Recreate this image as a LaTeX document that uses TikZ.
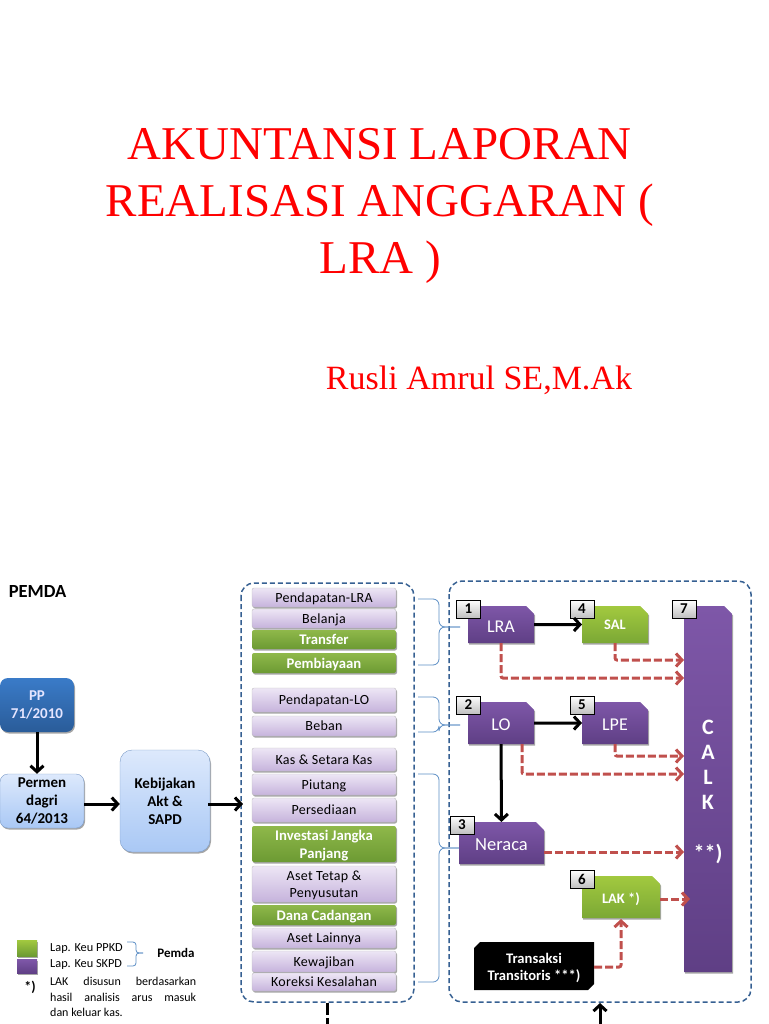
\documentclass[tikz,border=0pt]{standalone}
\usepackage{fontspec}
\setmainfont{Carlito}
\newfontfamily\titlefont{Liberation Serif}
\usetikzlibrary{positioning,calc,shapes.misc,shadows,arrows.meta}
\definecolor{dashblue}{HTML}{366092}
\definecolor{braceblue}{HTML}{5B8DC4}
\definecolor{dashred}{HTML}{C0504D}
\definecolor{purple1}{HTML}{EDE6F5}
\definecolor{purple2}{HTML}{C6B3DC}
\definecolor{green1}{HTML}{8FB84A}
\definecolor{green2}{HTML}{6C9A33}
\definecolor{green3}{HTML}{A2C93F}
\definecolor{green4}{HTML}{7BA835}
\definecolor{violet1}{HTML}{7E57A8}
\definecolor{violet2}{HTML}{5F3F85}
\definecolor{blue1}{HTML}{7C9CC8}
\definecolor{blue2}{HTML}{DDE9FC}
\definecolor{blue3}{HTML}{A9C8F5}
\definecolor{blue4}{HTML}{3A7BC8}
\definecolor{blue5}{HTML}{2A5C99}
\newcommand{\fsz}[1]{\fontsize{#1}{#1}\selectfont}
\newcommand{\lowered}[1]{\raisebox{-2pt}[\height][\depth]{#1}}

\begin{document}
\begin{tikzpicture}
   [x=1pt,y=-1pt,
    softshadow/.style={drop shadow={shadow xshift=1pt,shadow yshift=-1.5pt,opacity=.35,fill=black}},
    acct/.style={rectangle,rounded corners=2pt,draw=black!25,minimum width=144pt,inner sep=0pt,outer sep=0pt,text depth=0pt,
      top color=purple1,bottom color=purple2,softshadow,align=center,font=\fsz{14}\addfontfeature{LetterSpace=2},text=black},
    acctgreen/.style={acct,draw=none,top color=green1,bottom color=green2,text=white,font=\fsz{14.7}\bfseries},
    report/.style={chamfered rectangle,chamfered rectangle corners=north east,chamfered rectangle sep=4pt,
      inner sep=0pt,outer sep=0pt,top color=violet1,bottom color=violet2,softshadow,text=white,align=center,font=\fsz{18}},
    reportgreen/.style={report,top color=green3,bottom color=green4,font=\fsz{14.5}\bfseries},
    numtag/.style={rectangle,draw=black,line width=1pt,top color=white,bottom color=black!25,minimum width=24pt,minimum height=18pt,
      inner sep=0pt,font=\fsz{15}\bfseries,text=black},
    lawbox/.style={rectangle,rounded corners=8pt,draw=blue1,top color=blue2,bottom color=blue3,softshadow,
      inner sep=0pt,align=center,font=\fsz{15}\bfseries,text=black},
    dashbox/.style={draw=dashblue,line width=1.5pt,dash pattern=on 5pt off 3pt,rounded corners=13pt},
    blackarrow/.style={-{Straight Barb[length=6pt,width=13pt]},line width=3pt,black},
    redarrow/.style={-{Straight Barb[length=6pt,width=13pt]},line width=3pt,dashred,dash pattern=on 8pt off 3pt,rounded corners=2pt},
    bracket/.style={draw=braceblue,line width=.8pt,rounded corners=6pt}]
\useasboundingbox (0,0) rectangle (768,1024);

% title
\node (title) [align=center,text=red,font=\titlefont\fontsize{47}{57}\selectfont] at (380,206)
  {AKUNTANSI LAPORAN\\REALISASI ANGGARAN (\\LRA )};
\node (author) [text=red,font=\titlefont\fsz{34}] at (479,380) {Rusli Amrul SE,M.Ak};
\node (pemda) [font=\fsz{18.5}\bfseries] at (37.5,591) {PEMDA};

% dashed groups
\draw [dashbox] (241,583) rectangle (414,1002);
\draw [dashbox] (449,581) rectangle (751,1002);

% regulations
\node [lawbox,minimum width=74pt,minimum height=54pt,draw=none,top color=blue4,bottom color=blue5,
  text=white!90!blue] (pp) at (37,705) {PP\\[3pt]71/2010};
\node [lawbox,minimum width=84pt,minimum height=54pt] (permen) at (42,801) {Permen\\[3pt]dagri\\[3pt]64/2013};
\node [lawbox,rounded corners=12pt,minimum width=90pt,minimum height=102pt] (sapd) at (165,801) {Kebijakan\\[3pt]Akt \&\\[3pt]SAPD};
\coordinate (grpleft) at (243,804);
\draw [blackarrow] (pp.south) -- (pp.south |- permen.north);
\draw [blackarrow] ($(permen.east)+(0,3)$) -- ($(sapd.west)+(0,3)$);
\draw [blackarrow] ($(sapd.east)+(-2,3)$) -- (grpleft);

% accounts
\node [acct,minimum height=19pt] (plra) at (324,597.5) {Pendapatan-LRA};
\node [acct,minimum height=19pt,below=2pt of plra] (belanja) {Belanja};
\node [acctgreen,minimum height=19pt,below=2pt of belanja] (transfer) {Transfer};
\node [acctgreen,minimum height=20pt,below=4pt of transfer] (biaya) {Pembiayaan};
\node [acct,minimum height=24pt,below=15pt of biaya] (plo) {Pendapatan-LO};
\node [acct,minimum height=20pt,below=4pt of plo] (beban) {Beban};
\node [acct,minimum height=23pt,below=12pt of beban] (kas) {Kas \& Setara Kas};
\node [acct,minimum height=21pt,below=3pt of kas] (piutang) {Piutang};
\node [acct,minimum height=24pt,below=3pt of piutang] (sedia) {Persediaan};
\node [acctgreen,minimum height=36pt,below=4pt of sedia] (invest) {Investasi Jangka\\[3pt]Panjang};
\node [acct,minimum height=36pt,below=4pt of invest] (aset) {Aset Tetap \&\\[3pt]Penyusutan};
\node [acctgreen,minimum height=20pt,below=3pt of aset] (dana) {Dana Cadangan};
\node [acct,minimum height=20pt,below=3pt of dana] (lain) {Aset Lainnya};
\node [acct,minimum height=21pt,below=3pt of lain] (wajib) {Kewajiban};
\node [acct,minimum height=18pt,below=1pt of wajib] (koreksi) {Koreksi Kesalahan};

% reports
\node [report,minimum width=66pt,minimum height=37pt] (lra) at (501,624.5) {\lowered{LRA}};
\node [reportgreen,minimum width=66pt,minimum height=37pt] (sal) at (615,624.5) {SAL};
\node [report,minimum width=66pt,minimum height=42pt] (lo) at (501,723) {\lowered{LO}};
\node [report,minimum width=66pt,minimum height=42pt] (lpe) at (615,723) {\lowered{LPE}};
\node [report,minimum width=85pt,minimum height=42pt,font=\fsz{18.5}] (neraca) at (501.5,843) {\lowered{Neraca}};
\node [reportgreen,minimum width=78pt,minimum height=42pt] (lak) at (621,897) {\lowered{LAK *)}};
\node [report,minimum width=48pt,minimum height=366pt,font=\bfseries\fontsize{22}{25.2}\selectfont] (calk) at (708,789)
  {\rule{0pt}{20pt}C\\A\\L\\K\\ \\**)};
\node [chamfered rectangle,chamfered rectangle corners={north west,south east},chamfered rectangle sep=3pt,
  fill=black,inner sep=0pt,minimum width=120pt,minimum height=48pt,text=white,align=center,font=\fsz{14.6}\bfseries] (trans) at (534,966)
  {\rule{0pt}{14pt}Transaksi\\[3pt]Transitoris ***)};

% number tags
\node [numtag] (n1) at (468.5,609) {1};
\node [numtag] (n2) at (468.5,705) {2};
\node [numtag] (n3) at (462,825) {3};
\node [numtag] (n4) at (582,609) {4};
\node [numtag] (n5) at (582,705) {5};
\node [numtag] (n6) at (582,879) {6};
\node [numtag] (n7) at (684,609) {7};

% arrows between reports
\draw [blackarrow] (lra) -- (sal);
\draw [blackarrow] (lo) -- (lpe);
\draw [blackarrow] (lo) -- (neraca);

\coordinate (c1) at (684,660);
\coordinate (c2) at (684,678);
\coordinate (c3) at (684,756);
\coordinate (c4) at (684,774);
\coordinate (c5) at (684,852);
\coordinate (c6) at (690,899);
\coordinate (t6) at (594,967);
\coordinate (laktip) at (621,919);
\draw [redarrow] (sal.south) |- (c1);
\draw [redarrow] (lra.south) |- (c2);
\draw [redarrow] (lpe.south) |- (c3);
\draw [redarrow] ([xshift=21pt]lo.south) |- (c4);
\draw [redarrow] (neraca.east |- c5) -- (c5);
\draw [redarrow] (lak.east |- c6) -- (c6);
\draw [redarrow] (t6) -| (laktip);

% brackets to reports
\coordinate (s1a) at (418,599);
\coordinate (s1b) at (418,665);
\coordinate (s2a) at (418,697);
\coordinate (s2b) at (418,732);
\coordinate (s3a) at (418,774);
\coordinate (s3b) at (418,982);
\coordinate (t1) at (460,627);
\coordinate (t2) at (460,725);
\coordinate (t3) at (459,848);
\draw [bracket] (s1a) -| (439,627) -- (t1);
\draw [bracket] (s1b) -| (439,627) -- (t1);
\draw [bracket] (s2a) -| (439,725) -- (t2);
\draw [bracket] (s2b) -| (439,725) -- (t2);
\draw [bracket] (s3a) -| (439,848) -- (t3);
\draw [bracket] (s3b) -| (439,848) -- (t3);

% stubs at the bottom
\coordinate (lb) at (327,1003);
\coordinate (le) at (327,1024);
\coordinate (rb) at (600,1024);
\coordinate (re) at (600,1003);
\draw [black,line width=3pt,dash pattern=on 12pt off 3pt] (lb) -- (le);
\draw [blackarrow] (rb) -- (re);

% legend
\node [rectangle,minimum width=20pt,minimum height=16pt,inner sep=0pt,top color=green3,bottom color=green2,softshadow] (lgreen) at (27,948) {};
\node [rectangle,minimum width=20pt,minimum height=14pt,inner sep=0pt,top color=violet1,bottom color=violet2,softshadow] (lviolet) at (27,966.5) {};
\node [anchor=west,inner sep=0pt,font=\fsz{12.3}] (lppkd) at (50,949) {Lap. Keu PPKD};
\node [anchor=west,inner sep=0pt,font=\fsz{12.3}] (lskpd) at (50,964) {Lap. Keu SKPD};
\node [font=\fsz{13}\bfseries] (lpemda) at (176,953) {Pemda};
\coordinate (l1) at (127,942);
\coordinate (l2) at (127,966);
\coordinate (ltip) at (143,953);
\draw [bracket,rounded corners=3pt] (l1) -| (136,953) -- (ltip);
\draw [bracket,rounded corners=3pt] (l2) -| (136,953) -- (ltip);
\node [font=\fsz{14}\bfseries] (lstar) at (30,987) {*)};
\node [anchor=north west,inner sep=0pt,align=left,font=\fsz{12}] (lnote) at (50,977)
  {\makebox[146pt][s]{LAK disusun berdasarkan}\\[3.6pt]\makebox[146pt][s]{hasil analisis arus masuk}\\[3.6pt]dan keluar kas.};
\end{tikzpicture}
\end{document}
